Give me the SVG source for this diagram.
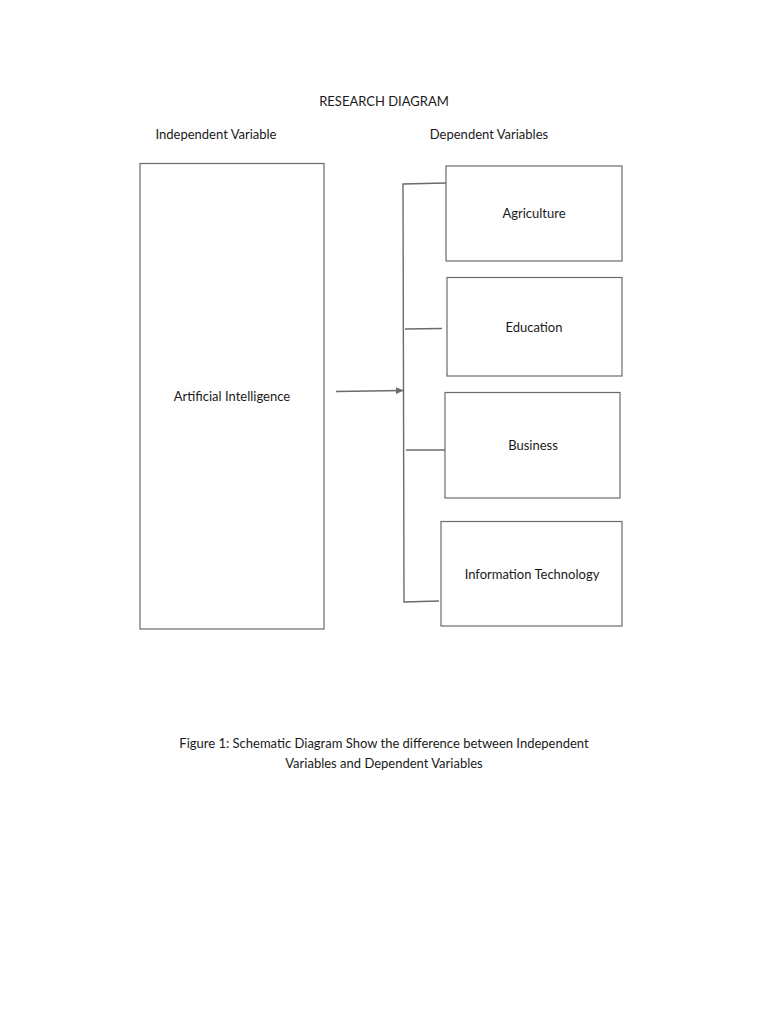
<svg xmlns="http://www.w3.org/2000/svg" width="768" height="1024" viewBox="0 0 768 1024">
<style>
text{font-family:Lato,"Noto Sans","Liberation Sans",sans-serif;font-size:13px;fill:#1a1a1a;text-anchor:middle}
.box{fill:#fff;stroke:#6b6b6b;stroke-width:1.2}
.ln{fill:none;stroke:#6b6b6b;stroke-width:1.4}
</style>
<defs>
<marker id="ah" markerWidth="8" markerHeight="8" refX="7" refY="4" orient="auto" markerUnits="userSpaceOnUse">
<path d="M0,0.5 L7.5,4 L0,7.5 Z" fill="#6b6b6b"/>
</marker>
</defs>
<rect width="768" height="1024" fill="#fff"/>
<g id="titles">
<text x="384" y="106">RESEARCH DIAGRAM</text>
<text x="216" y="139">Independent Variable</text>
<text x="489" y="139">Dependent Variables</text>
</g>
<g id="ai">
<rect class="box" x="140" y="163.5" width="184" height="465.5"/>
<text x="232" y="401">Artificial Intelligence</text>
</g>
<g id="agriculture">
<rect class="box" x="446" y="166" width="176" height="95"/>
<text x="534" y="218">Agriculture</text>
</g>
<g id="education">
<rect class="box" x="447" y="277.5" width="175" height="98.5"/>
<text x="534" y="332">Education</text>
</g>
<g id="business">
<rect class="box" x="445" y="392.5" width="175" height="105.5"/>
<text x="533" y="450">Business</text>
</g>
<g id="it">
<rect class="box" x="441" y="521.5" width="181" height="104.5"/>
<text x="532" y="579">Information Technology</text>
</g>
<g id="connectors">
<path class="ln" d="M446,183 L403,184 L404,602 L439,601"/>
<line class="ln" x1="405" y1="329" x2="442" y2="328.5"/>
<line class="ln" x1="406" y1="450" x2="445" y2="450"/>
<line class="ln" x1="336" y1="391.5" x2="403" y2="390.5" marker-end="url(#ah)"/>
</g>
<g id="caption">
<text x="384" y="748">Figure 1: Schematic Diagram Show the difference between Independent</text>
<text x="384" y="768">Variables and Dependent Variables</text>
</g>
</svg>
